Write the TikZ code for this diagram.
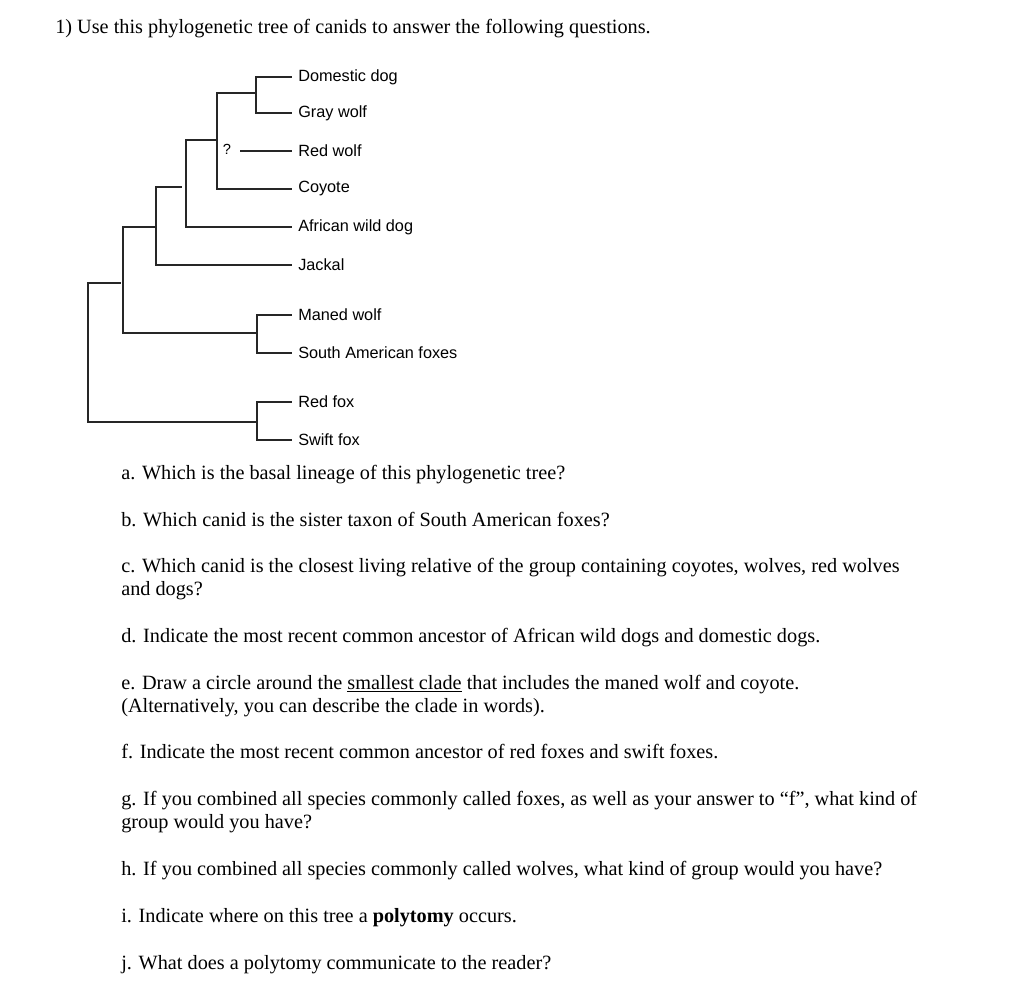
\documentclass[tikz,border=0pt]{standalone}
\usepackage{fontspec}
\setmainfont{Liberation Serif}
\setsansfont{Liberation Sans}
\usepackage{tikz}
\usetikzlibrary{positioning,calc}

\tikzset{
  branch/.style={line width=0.9pt, black!85},
  taxon/.style={anchor=west, inner xsep=4.5pt, inner ysep=0pt, font=\sffamily\fontsize{12.2}{14}\selectfont},
  question/.style={anchor=base west, inner sep=0pt, font=\fontsize{15.2}{17.25}\selectfont}
}

\begin{document}
\begin{tikzpicture}[x=0.75pt, y=-0.75pt]
  \useasboundingbox (0,0) rectangle (1024,999);

  % Heading
  \node[question] (head) at (55,34) {1) Use this phylogenetic tree of canids to answer the following questions.};

  % Taxa
  \node[taxon] (dog) at (292,77) {Domestic dog};
  \node[taxon] (wolf) at (292,113) {Gray wolf};
  \node[taxon] (redwolf) at (292,151) {Red wolf};
  \node[taxon] (coyote) at (292,189) {Coyote};
  \node[taxon] (wilddog) at (292,227) {African wild dog};
  \node[taxon] (jackal) at (292,265) {Jackal};
  \node[taxon] (maned) at (292,315) {Maned wolf};
  \node[taxon] (safox) at (292,353) {South American foxes};
  \node[taxon] (redfox) at (292,402) {Red fox};
  \node[taxon] (swift) at (292,440) {Swift fox};

  % Internal nodes
  \coordinate (n1) at (256,93);   % dog + gray wolf
  \coordinate (n2) at (217,140);  % polytomy
  \coordinate (n3) at (186,183);
  \coordinate (n3in) at (182,187);
  \coordinate (n4) at (156,227);
  \coordinate (n5) at (123,283);
  \coordinate (n5in) at (121,283);
  \coordinate (n6) at (257,333);
  \coordinate (n7) at (88,352);   % root
  \coordinate (n8) at (257,422);
  \node[inner sep=0pt, font=\sffamily\fontsize{11}{13}\selectfont] (qmark) at (227,149) {?};
  \coordinate (rw) at (240,151);

  % Branches
  \draw[branch] (n1) |- (dog.west);
  \draw[branch] (n1) |- (wolf.west);
  \draw[branch] (n2) |- (n1);
  \draw[branch] (n2) |- (coyote.west);
  \draw[branch] (rw) -- (redwolf.west);
  \draw[branch] (n3) |- (n2);
  \draw[branch] (n3) |- (wilddog.west);
  \draw[branch] (n4) |- (n3in);
  \draw[branch] (n4) |- (jackal.west);
  \draw[branch] (n5) |- (n4);
  \draw[branch] (n5) |- (n6);
  \draw[branch] (n6) |- (maned.west);
  \draw[branch] (n6) |- (safox.west);
  \draw[branch] (n7) |- (n5in);
  \draw[branch] (n7) |- (n8);
  \draw[branch] (n8) |- (redfox.west);
  \draw[branch] (n8) |- (swift.west);

  % Questions
  \node[question] (qa) at (121,479) {a. Which is the basal lineage of this phylogenetic tree?};
  \node[question] (qb) at (121,526) {b. Which canid is the sister taxon of South American foxes?};
  \node[question] (qc) at (121,572) {c. Which canid is the closest living relative of the group containing coyotes, wolves, red wolves};
  \node[question] (qc2) at (121,595) {and dogs?};
  \node[question] (qd) at (121,642) {d. Indicate the most recent common ancestor of African wild dogs and domestic dogs.};
  \node[question] (qe) at (121,689) {e. Draw a circle around the \underline{smallest clade} that includes the maned wolf and coyote.};
  \node[question] (qe2) at (121,712) {(Alternatively, you can describe the clade in words).};
  \node[question] (qf) at (121,758) {f. Indicate the most recent common ancestor of red foxes and swift foxes.};
  \node[question] (qg) at (121,805) {g. If you combined all species commonly called foxes, as well as your answer to “f”, what kind of};
  \node[question] (qg2) at (121,828) {group would you have?};
  \node[question] (qh) at (121,875) {h. If you combined all species commonly called wolves, what kind of group would you have?};
  \node[question] (qi) at (121,922) {i. Indicate where on this tree a \textbf{polytomy} occurs.};
  \node[question] (qj) at (121,969) {j. What does a polytomy communicate to the reader?};
\end{tikzpicture}
\end{document}
